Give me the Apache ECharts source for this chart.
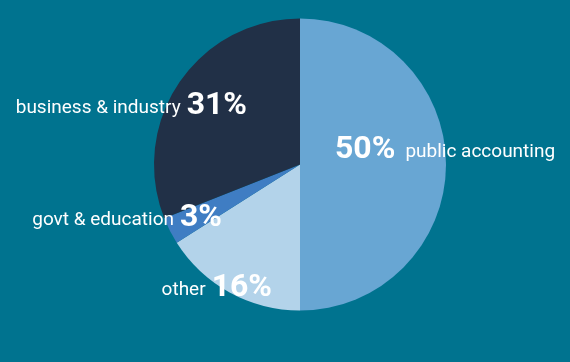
<!DOCTYPE html>
<html><head><meta charset="utf-8">
<script src="https://cdn.jsdelivr.net/npm/echarts@6/dist/echarts.min.js"></script>
<style>html,body{margin:0;padding:0;background:#00738f}#c{width:570px;height:362px}</style>
</head><body><div id="c"></div>
<script>
const categories = ['public accounting', 'other', 'govt & education', 'business & industry'];
const shares = [50, 16, 3, 31];
const sliceColors = ['#68a6d3', '#b3d3ea', '#3f7dc3', '#213047'];

// label anchors (style): x, bottom y, alignment
const labelAnchors = [
  { x: 335, y: 166, align: 'left' },
  { x: 272, y: 304, align: 'right' },
  { x: 222, y: 234, align: 'right' },
  { x: 247, y: 122, align: 'right' }
];

const chart = echarts.init(document.getElementById('c'), null, { renderer: 'canvas' });
chart.setOption({
  backgroundColor: '#00738f',
  animation: false,
  series: [{
    type: 'pie',
    center: [300, 164.5],
    radius: [0, 146],
    startAngle: 90,
    clockwise: true,
    silent: true,
    data: categories.map((c, i) => ({ name: c, value: shares[i], itemStyle: { color: sliceColors[i] } })),
    itemStyle: { borderWidth: 0 },
    labelLine: { show: false },
    label: {
      show: true,
      position: 'inside',
      formatter: p => p.dataIndex === 0
        ? '{p|' + p.value + '%}{n0|' + p.name + '}'
        : '{n|' + p.name + '}{p|' + p.value + '%}',
      rich: {
        p: { fontFamily: 'Roboto', fontWeight: 'bold', fontSize: 32, color: '#fff', verticalAlign: 'bottom', lineHeight: 36 },
        n: { fontFamily: 'Roboto', fontSize: 19, color: '#fff', verticalAlign: 'bottom', lineHeight: 36, padding: [0, 6, 4, 0] },
        n0: { fontFamily: 'Roboto', fontSize: 19, color: '#fff', verticalAlign: 'bottom', lineHeight: 36, padding: [0, 0, 4, 10] }
      }
    },
    labelLayout: params => {
      const a = labelAnchors[params.dataIndex];
      return { x: a.x, y: a.y, align: a.align, verticalAlign: 'bottom' };
    }
  }]
});
</script></body></html>
